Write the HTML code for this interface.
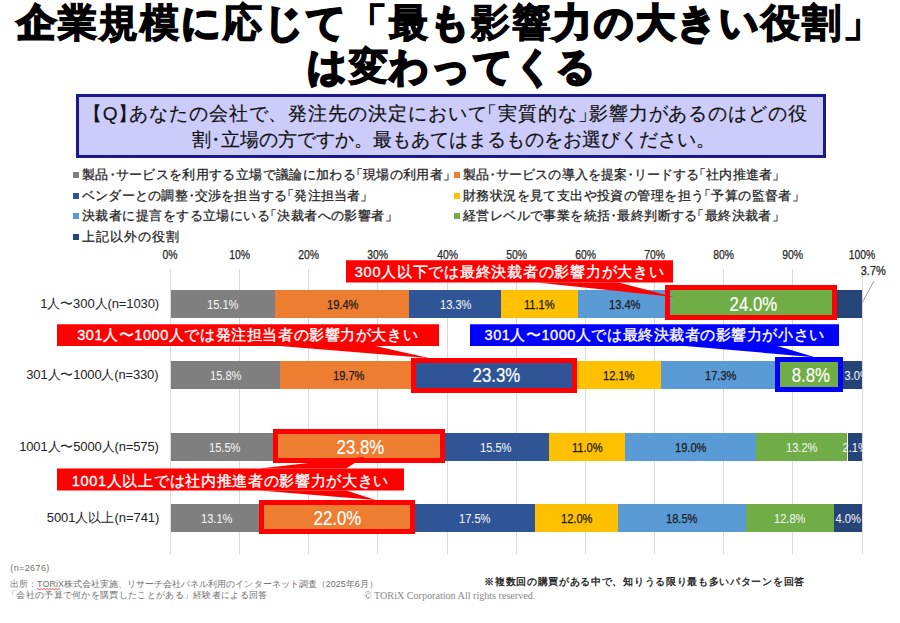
<!DOCTYPE html>
<html><head><meta charset="utf-8"><style>
*{margin:0;padding:0;box-sizing:border-box}
html,body{width:900px;height:623px;overflow:hidden;background:#fff}
body{position:relative;font-family:"Liberation Sans",sans-serif;color:#000}
.a{position:absolute;white-space:nowrap}
.t{font-weight:bold;font-size:39px;line-height:44px;color:#000;-webkit-text-stroke:1.3px #000}
.q{left:75.5px;top:94px;width:750px;height:64px;border:3px solid #1a1a8e;background:#ccccfa}
.qt{font-size:19px;line-height:25px;color:#111;-webkit-text-stroke:0.2px #111}
.lg{font-size:12.8px;line-height:16px;color:#222;-webkit-text-stroke:0.25px #222}
.sq{width:6px;height:6px}
.ax{font-size:12.5px;line-height:14px;color:#262626;width:60px;text-align:center}
.ax span{display:inline-block;transform:scaleX(0.83);-webkit-text-stroke:0.25px #262626}
.gl{width:1px;background:#d9d9d9;top:269px;height:285px}
.bar{height:28px}
.dl{font-size:12.5px;line-height:30px;text-align:center}
.dl span{display:inline-block;transform:scaleX(0.89);-webkit-text-stroke:0.25px currentColor}
.big{font-size:20px;line-height:29px}
.big span{transform:scaleX(0.84);-webkit-text-stroke:0.2px currentColor}
.rl{font-size:13px;line-height:16px;color:#222}
.co{font-size:14.5px;line-height:22px;color:#fff;-webkit-text-stroke:0.35px #fff}
.ft{font-size:9px;line-height:12px;color:#707070}
.fc{font-family:"Liberation Serif",serif;font-size:10.2px;line-height:13px;color:#888}
.fn{font-size:10.3px;line-height:14px;color:#111;-webkit-text-stroke:0.3px #111}
</style></head><body>
<div class="a q"></div>
<div class="a sq" style="left:73px;top:172px;background:#7f7f7f"></div>
<div class="a sq" style="left:454px;top:172px;background:#ed7d31"></div>
<div class="a sq" style="left:73px;top:192.5px;background:#2f5597"></div>
<div class="a sq" style="left:454px;top:192.5px;background:#ffc000"></div>
<div class="a sq" style="left:73px;top:213px;background:#5b9bd5"></div>
<div class="a sq" style="left:454px;top:213px;background:#70ad47"></div>
<div class="a sq" style="left:73px;top:233.5px;background:#264478"></div>
<div class="a gl" style="left:170.00px"></div>
<div class="a ax" style="left:140.50px;top:248px"><span>0%</span></div>
<div class="a gl" style="left:239.15px"></div>
<div class="a ax" style="left:209.65px;top:248px"><span>10%</span></div>
<div class="a gl" style="left:308.30px"></div>
<div class="a ax" style="left:278.80px;top:248px"><span>20%</span></div>
<div class="a gl" style="left:377.45px"></div>
<div class="a ax" style="left:347.95px;top:248px"><span>30%</span></div>
<div class="a gl" style="left:446.60px"></div>
<div class="a ax" style="left:417.10px;top:248px"><span>40%</span></div>
<div class="a gl" style="left:515.75px"></div>
<div class="a ax" style="left:486.25px;top:248px"><span>50%</span></div>
<div class="a gl" style="left:584.90px"></div>
<div class="a ax" style="left:555.40px;top:248px"><span>60%</span></div>
<div class="a gl" style="left:654.05px"></div>
<div class="a ax" style="left:624.55px;top:248px"><span>70%</span></div>
<div class="a gl" style="left:723.20px"></div>
<div class="a ax" style="left:693.70px;top:248px"><span>80%</span></div>
<div class="a gl" style="left:792.35px"></div>
<div class="a ax" style="left:762.85px;top:248px"><span>90%</span></div>
<div class="a gl" style="left:861.50px"></div>
<div class="a ax" style="left:832.00px;top:248px"><span>100%</span></div>
<div class="a bar" style="left:171.00px;top:290px;width:104.34px;background:#7f7f7f"></div>
<div class="a bar" style="left:275.34px;top:290px;width:134.05px;background:#ed7d31"></div>
<div class="a bar" style="left:409.39px;top:290px;width:91.90px;background:#2f5597"></div>
<div class="a bar" style="left:501.30px;top:290px;width:76.70px;background:#ffc000"></div>
<div class="a bar" style="left:578.00px;top:290px;width:92.59px;background:#5b9bd5"></div>
<div class="a bar" style="left:670.59px;top:290px;width:165.84px;background:#70ad47"></div>
<div class="a bar" style="left:836.43px;top:290px;width:25.57px;background:#264478"></div>
<div class="a bar" style="left:171.00px;top:361px;width:109.18px;background:#7f7f7f"></div>
<div class="a bar" style="left:280.18px;top:361px;width:136.13px;background:#ed7d31"></div>
<div class="a bar" style="left:416.31px;top:361px;width:161.00px;background:#2f5597"></div>
<div class="a bar" style="left:577.31px;top:361px;width:83.61px;background:#ffc000"></div>
<div class="a bar" style="left:660.92px;top:361px;width:119.54px;background:#5b9bd5"></div>
<div class="a bar" style="left:780.46px;top:361px;width:60.81px;background:#70ad47"></div>
<div class="a bar" style="left:841.27px;top:361px;width:20.73px;background:#264478"></div>
<div class="a bar" style="left:171.00px;top:433px;width:107.00px;background:#7f7f7f"></div>
<div class="a bar" style="left:278.00px;top:433px;width:164.29px;background:#ed7d31"></div>
<div class="a bar" style="left:442.29px;top:433px;width:107.00px;background:#2f5597"></div>
<div class="a bar" style="left:549.29px;top:433px;width:75.93px;background:#ffc000"></div>
<div class="a bar" style="left:625.22px;top:433px;width:131.16px;background:#5b9bd5"></div>
<div class="a bar" style="left:756.38px;top:433px;width:91.12px;background:#70ad47"></div>
<div class="a bar" style="left:847.50px;top:433px;width:14.50px;background:#264478"></div>
<div class="a bar" style="left:171.00px;top:504px;width:90.61px;background:#7f7f7f"></div>
<div class="a bar" style="left:261.61px;top:504px;width:152.17px;background:#ed7d31"></div>
<div class="a bar" style="left:413.78px;top:504px;width:121.05px;background:#2f5597"></div>
<div class="a bar" style="left:534.83px;top:504px;width:83.00px;background:#ffc000"></div>
<div class="a bar" style="left:617.83px;top:504px;width:127.96px;background:#5b9bd5"></div>
<div class="a bar" style="left:745.80px;top:504px;width:88.54px;background:#70ad47"></div>
<div class="a bar" style="left:834.33px;top:504px;width:27.67px;background:#264478"></div>
<div class="a" style="left:664.5px;top:285px;width:172.0px;height:35.0px;border:5px solid #ff0000"></div>
<div class="a" style="left:411px;top:358.3px;width:166.0px;height:34.7px;border:5px solid #ff0000"></div>
<div class="a" style="left:775px;top:357px;width:67.7px;height:34.7px;border:5px solid #0000ff"></div>
<div class="a" style="left:273.3px;top:429.2px;width:172.2px;height:33.8px;border:5px solid #ff0000"></div>
<div class="a" style="left:259.3px;top:499.7px;width:155.9px;height:34.5px;border:5px solid #ff0000"></div>
<div class="a" style="left:0;top:0;width:862px;height:623px;overflow:hidden">
<div class="a dl" style="left:173.17px;top:290px;width:100px;color:#f5f5f5"><span style="-webkit-text-stroke-width:0.05px">15.1%</span></div>
<div class="a dl" style="left:292.37px;top:290px;width:100px;color:#1a1a1a"><span style="">19.4%</span></div>
<div class="a dl" style="left:405.35px;top:290px;width:100px;color:#f5f5f5"><span style="-webkit-text-stroke-width:0.05px">13.3%</span></div>
<div class="a dl" style="left:489.65px;top:290px;width:100px;color:#1a1a1a"><span style="">11.1%</span></div>
<div class="a dl" style="left:574.30px;top:290px;width:100px;color:#1a1a1a"><span style="">13.4%</span></div>
<div class="a dl big" style="left:703.51px;top:290px;width:100px;color:#fff"><span style="">24.0%</span></div>
<div class="a dl" style="left:175.59px;top:361px;width:100px;color:#f5f5f5"><span style="-webkit-text-stroke-width:0.05px">15.8%</span></div>
<div class="a dl" style="left:298.24px;top:361px;width:100px;color:#1a1a1a"><span style="">19.7%</span></div>
<div class="a dl big" style="left:446.81px;top:361px;width:100px;color:#fff"><span style="">23.3%</span></div>
<div class="a dl" style="left:569.11px;top:361px;width:100px;color:#1a1a1a"><span style="">12.1%</span></div>
<div class="a dl" style="left:670.69px;top:361px;width:100px;color:#1a1a1a"><span style="">17.3%</span></div>
<div class="a dl big" style="left:760.87px;top:361px;width:100px;color:#fff"><span style="">8.8%</span></div>
<div class="a dl" style="left:807.63px;top:361px;width:100px;color:#f5f5f5"><span style="-webkit-text-stroke-width:0.05px">3.0%</span></div>
<div class="a dl" style="left:174.50px;top:433px;width:100px;color:#f5f5f5"><span style="-webkit-text-stroke-width:0.05px">15.5%</span></div>
<div class="a dl big" style="left:310.14px;top:433px;width:100px;color:#fff"><span style="">23.8%</span></div>
<div class="a dl" style="left:445.79px;top:433px;width:100px;color:#f5f5f5"><span style="-webkit-text-stroke-width:0.05px">15.5%</span></div>
<div class="a dl" style="left:537.26px;top:433px;width:100px;color:#1a1a1a"><span style="">11.0%</span></div>
<div class="a dl" style="left:640.80px;top:433px;width:100px;color:#1a1a1a"><span style="">19.0%</span></div>
<div class="a dl" style="left:751.94px;top:433px;width:100px;color:#f5f5f5"><span style="-webkit-text-stroke-width:0.05px">13.2%</span></div>
<div class="a dl" style="left:804.75px;top:433px;width:100px;color:#f5f5f5"><span style="-webkit-text-stroke-width:0.05px">2.1%</span></div>
<div class="a dl" style="left:166.31px;top:504px;width:100px;color:#f5f5f5"><span style="-webkit-text-stroke-width:0.05px">13.1%</span></div>
<div class="a dl big" style="left:287.70px;top:504px;width:100px;color:#fff"><span style="">22.0%</span></div>
<div class="a dl" style="left:424.31px;top:504px;width:100px;color:#f5f5f5"><span style="-webkit-text-stroke-width:0.05px">17.5%</span></div>
<div class="a dl" style="left:526.33px;top:504px;width:100px;color:#1a1a1a"><span style="">12.0%</span></div>
<div class="a dl" style="left:631.81px;top:504px;width:100px;color:#1a1a1a"><span style="">18.5%</span></div>
<div class="a dl" style="left:740.06px;top:504px;width:100px;color:#f5f5f5"><span style="-webkit-text-stroke-width:0.05px">12.8%</span></div>
<div class="a dl" style="left:798.17px;top:504px;width:100px;color:#f5f5f5"><span style="-webkit-text-stroke-width:0.05px">4.0%</span></div>
</div>
<div class="a dl" style="left:853.5px;top:264px;width:40px;color:#262626;line-height:14px"><span style="transform:scaleX(0.88)">3.7%</span></div>
<svg class="a" style="left:0;top:0" width="900" height="623" viewBox="0 0 900 623">
<line x1="874" y1="281" x2="862" y2="303" stroke="#7f7f7f" stroke-width="0.8"/>
<path d="M346,260.3 L673,260.3 L673,282.5 L346,282.5 Z" fill="#ff0000"/>
<path d="M536.8,282.5 L618.5,282.5 L674,297 Z" fill="#ff0000"/>
<path d="M57,324.2 L439,324.2 L439,346 L57,346 Z" fill="#ff0000"/>
<path d="M279.8,346 L375.3,346 L430,358.2 Z" fill="#ff0000"/>
<path d="M470,324.2 L839,324.2 L839,346 L470,346 Z" fill="#0000ff"/>
<path d="M685.2,346 L777.5,346 L815,357.2 Z" fill="#0000ff"/>
<path d="M57,468.5 L404,468.5 L404,490.5 L57,490.5 Z" fill="#ff0000"/>
<path d="M259.4,468.5 L346.2,468.5 L364.5,456.7 Z" fill="#ff0000"/>
<path d="M259.4,490.5 L346.2,490.5 L375.6,500 Z" fill="#ff0000"/>
<path d="M36.5,589.5 L38.0,588.3 L39.5,590.1 L41.0,588.3 L42.5,590.1 L44.0,588.3 L45.5,590.1 L47.0,588.3 L48.5,590.1 L50.0,588.3 L51.5,590.1 L53.0,588.3 L54.5,590.1 L56.0,588.3 L57.5,590.1 L59.0,588.3 L60.5,590.1" fill="none" stroke="#e02020" stroke-width="0.7"/>
</svg>
<div id="t1" class="a t" style="left:17.00px;top:0.50px;letter-spacing:1.950px"><span style="-webkit-text-stroke-width:2.3px">企</span>業規模<span style="-webkit-text-stroke-width:2.3px">に</span>応<span style="-webkit-text-stroke-width:2.3px">じ</span><span style="-webkit-text-stroke-width:2.3px">て</span>「最<span style="-webkit-text-stroke-width:2.3px">も</span><span style="-webkit-text-stroke-width:0.6px">影</span><span style="-webkit-text-stroke-width:0.6px">響</span><span style="-webkit-text-stroke-width:2.3px">力</span><span style="-webkit-text-stroke-width:2.3px">の</span><span style="-webkit-text-stroke-width:2.3px">大</span><span style="-webkit-text-stroke-width:2.3px">き</span><span style="-webkit-text-stroke-width:2.3px">い</span>役割」</div>
<div id="t2" class="a t" style="left:307.00px;top:45.00px;letter-spacing:1.667px"><span style="-webkit-text-stroke-width:2.3px">は</span>変<span style="-webkit-text-stroke-width:2.3px">わ</span><span style="-webkit-text-stroke-width:2.3px">っ</span><span style="-webkit-text-stroke-width:2.3px">て</span><span style="-webkit-text-stroke-width:2.3px">く</span><span style="-webkit-text-stroke-width:2.3px">る</span></div>
<div id="q1" class="a qt" style="left:92.20px;top:101.20px;letter-spacing:0.951px"><span style="margin-left:-0.5em">【</span>Q<span style="margin-right:-0.5em">】</span>あなたの会社で、発注先の決定において<span style="margin-left:-0.5em">「</span>実質的な<span style="margin-right:-0.5em">」</span>影響力があるのはどの役</div>
<div id="q2" class="a qt" style="left:192.00px;top:127.30px;letter-spacing:0.015px">割<span style="margin:0 -0.25em">・</span>立場の方ですか。最もあてはまるものをお選びください。</div>
<div id="l1" class="a lg" style="left:82.00px;top:167.00px;letter-spacing:0.350px">製品<span style="margin:0 -0.25em">・</span>サービスを利用する立場で議論に加わる<span style="margin-left:-0.5em">「</span>現場の利用者<span style="margin-right:-0.5em">」</span></div>
<div id="l2" class="a lg" style="left:463.00px;top:167.00px;letter-spacing:0.120px">製品<span style="margin:0 -0.25em">・</span>サービスの導入を提案<span style="margin:0 -0.25em">・</span>リードする<span style="margin-left:-0.5em">「</span>社内推進者<span style="margin-right:-0.5em">」</span></div>
<div id="l3" class="a lg" style="left:82.00px;top:187.50px;letter-spacing:0.236px">ベンダーとの調整<span style="margin:0 -0.25em">・</span>交渉を担当する<span style="margin-left:-0.5em">「</span>発注担当者<span style="margin-right:-0.5em">」</span></div>
<div id="l4" class="a lg" style="left:463.00px;top:187.50px;letter-spacing:0.408px">財務状況を見て支出や投資の管理を担う<span style="margin-left:-0.5em">「</span>予算の監督者<span style="margin-right:-0.5em">」</span></div>
<div id="l5" class="a lg" style="left:82.00px;top:208.00px;letter-spacing:0.443px">決裁者に提言をする立場にいる<span style="margin-left:-0.5em">「</span>決裁者への影響者<span style="margin-right:-0.5em">」</span></div>
<div id="l6" class="a lg" style="left:463.00px;top:208.00px;letter-spacing:0.396px">経営レベルで事業を統括<span style="margin:0 -0.25em">・</span>最終判断する<span style="margin-left:-0.5em">「</span>最終決裁者<span style="margin-right:-0.5em">」</span></div>
<div id="l7" class="a lg" style="left:82.00px;top:228.50px;letter-spacing:0.950px">上記以外の役割</div>
<div id="r1" class="a rl" style="left:40.20px;top:295.80px;letter-spacing:-0.100px">1人〜300人(n=1030)</div>
<div id="r2" class="a rl" style="left:26.30px;top:367.40px;letter-spacing:-0.162px">301人〜1000人(n=330)</div>
<div id="r3" class="a rl" style="left:19.20px;top:438.60px;letter-spacing:-0.141px">1001人〜5000人(n=575)</div>
<div id="r4" class="a rl" style="left:46.70px;top:510.40px;letter-spacing:-0.031px">5001人以上(n=741)</div>
<div id="c1" class="a co" style="left:354.80px;top:260.90px;letter-spacing:0.740px">300人以下では最終決裁者の影響力が大きい</div>
<div id="c2" class="a co" style="left:77.20px;top:324.20px;letter-spacing:0.583px">301人〜1000人では発注担当者の影響力が大きい</div>
<div id="c3" class="a co" style="left:484.60px;top:324.20px;letter-spacing:0.542px">301人〜1000人では最終決裁者の影響力が小さい</div>
<div id="c4" class="a co" style="left:71.80px;top:469.90px;letter-spacing:0.686px">1001人以上では社内推進者の影響力が大きい</div>
<div id="f1" class="a ft" style="left:10.30px;top:562.40px;letter-spacing:0.386px">(n=2676)</div>
<div id="f2" class="a ft" style="left:10.00px;top:578.25px;letter-spacing:0.023px">出所：TORiX株式会社実施、リサーチ会社パネル利用のインターネット調査（2025年6月）</div>
<div id="f3" class="a ft" style="left:7.00px;top:588.75px;letter-spacing:0.308px">「会社の予算で何かを購買したことがある」経験者による回答</div>
<div id="f4" class="a fc" style="left:364.00px;top:589.00px;letter-spacing:-0.033px">© TORiX Corporation All rights reserved.</div>
<div id="f5" class="a fn" style="left:484.20px;top:574.70px;letter-spacing:0.690px">※複数回の購買がある中で、知りうる限り最も多いパターンを回答</div>
</body></html>
